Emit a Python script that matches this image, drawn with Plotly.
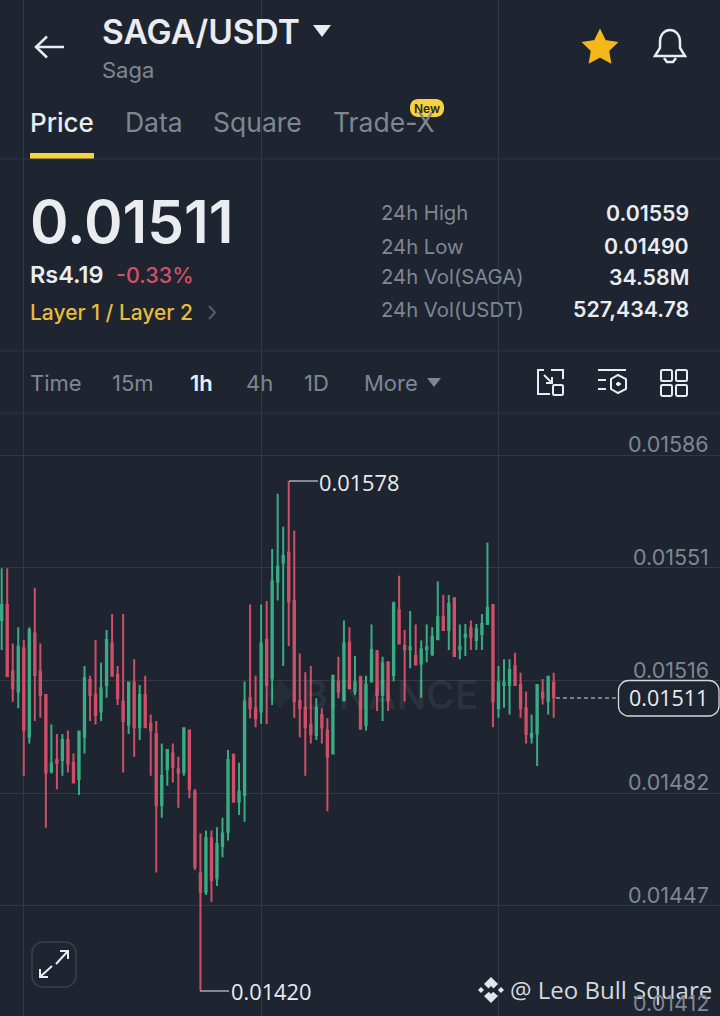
import math
import plotly.graph_objects as go

# hourly candles
opens = [
    0.015349, 0.015395, 0.015189, 0.015127, 0.015261, 0.014987, 0.015307, 0.015189, 0.015116, 0.014879,
    0.014915, 0.014915, 0.014977, 0.014906, 0.014856, 0.014987, 0.015163, 0.015116, 0.015065, 0.015147,
    0.015276, 0.015178, 0.015095, 0.015025, 0.015155, 0.015016, 0.015116, 0.015026, 0.014995, 0.014775,
    0.014886, 0.014935, 0.014886, 0.014876, 0.015006, 0.014816, 0.014563, 0.014506, 0.014672, 0.014548,
    0.014648, 0.014692, 0.014930, 0.014785, 0.014806, 0.015106, 0.015075, 0.015065, 0.015287, 0.015168,
    0.015468, 0.015527, 0.015558, 0.015408, 0.015098, 0.015077, 0.015023, 0.014992, 0.015054, 0.015006,
    0.014935, 0.015158, 0.015101, 0.015279, 0.015127, 0.015171, 0.015023, 0.015158, 0.015251, 0.015116,
    0.015218, 0.015178, 0.015380, 0.015268, 0.015258, 0.015237, 0.015214, 0.015258, 0.015243, 0.015289,
    0.015357, 0.015318, 0.015416, 0.015258, 0.015297, 0.015323, 0.015287, 0.015305, 0.015336, 0.015395,
    0.015075, 0.015147, 0.015147, 0.015206, 0.015147, 0.015075, 0.014985, 0.014997, 0.015124, 0.015098,
    0.015154,
]
closes = [
    0.015395, 0.015175, 0.015137, 0.015266, 0.015008, 0.015318, 0.015178, 0.015116, 0.014876, 0.014904,
    0.014906, 0.014977, 0.014904, 0.014845, 0.015003, 0.015168, 0.015116, 0.015054, 0.015137, 0.015287,
    0.015176, 0.015106, 0.015036, 0.015155, 0.015016, 0.015116, 0.015016, 0.015006, 0.014775, 0.014865,
    0.014946, 0.014894, 0.014876, 0.015013, 0.014825, 0.014584, 0.014506, 0.014672, 0.014543, 0.014654,
    0.014687, 0.014915, 0.014785, 0.014816, 0.015096, 0.015075, 0.015044, 0.015276, 0.015147, 0.015468,
    0.015514, 0.015547, 0.015406, 0.015098, 0.015075, 0.015016, 0.014995, 0.015075, 0.015016, 0.014925,
    0.015176, 0.015127, 0.015276, 0.015137, 0.015156, 0.015013, 0.015147, 0.015256, 0.015116, 0.015214,
    0.015101, 0.015400, 0.015276, 0.015258, 0.015264, 0.015211, 0.015258, 0.015264, 0.015297, 0.015357,
    0.015318, 0.015398, 0.015237, 0.015266, 0.015304, 0.015295, 0.015320, 0.015336, 0.015387, 0.015096,
    0.015154, 0.015154, 0.015194, 0.015147, 0.015075, 0.014995, 0.014995, 0.015147, 0.015108, 0.015173,
    0.015110,
]
highs = [
    0.015509, 0.015509, 0.015276, 0.015326, 0.015287, 0.015326, 0.015449, 0.015276, 0.015116, 0.015025,
    0.014995, 0.014995, 0.015006, 0.014935, 0.015006, 0.015206, 0.015176, 0.015287, 0.015216, 0.015318,
    0.015367, 0.015206, 0.015367, 0.015155, 0.015227, 0.015147, 0.015176, 0.015056, 0.015036, 0.014966,
    0.014946, 0.014966, 0.014925, 0.015016, 0.015006, 0.014825, 0.014687, 0.014696, 0.014696, 0.014706,
    0.014736, 0.014946, 0.014935, 0.014906, 0.015158, 0.015397, 0.015176, 0.015397, 0.015408, 0.015569,
    0.015740, 0.015638, 0.015780, 0.015626, 0.015245, 0.015187, 0.015206, 0.015106, 0.015075, 0.015044,
    0.015176, 0.015235, 0.015347, 0.015326, 0.015237, 0.015176, 0.015176, 0.015335, 0.015256, 0.015235,
    0.015218, 0.015406, 0.015486, 0.015318, 0.015377, 0.015335, 0.015285, 0.015335, 0.015326, 0.015468,
    0.015426, 0.015426, 0.015416, 0.015335, 0.015336, 0.015347, 0.015336, 0.015367, 0.015589, 0.015398,
    0.015206, 0.015227, 0.015227, 0.015247, 0.015185, 0.015127, 0.015056, 0.015147, 0.015166, 0.015176,
    0.015185,
]
lows = [
    0.015256, 0.015175, 0.015095, 0.015075, 0.014866, 0.014966, 0.015036, 0.015046, 0.014705, 0.014873,
    0.014824, 0.014866, 0.014876, 0.014845, 0.014806, 0.014935, 0.015036, 0.015025, 0.015036, 0.015108,
    0.015176, 0.015085, 0.014876, 0.014995, 0.014925, 0.014977, 0.015016, 0.014866, 0.014566, 0.014736,
    0.014835, 0.014845, 0.014767, 0.014866, 0.014796, 0.014574, 0.014200, 0.014496, 0.014475, 0.014524,
    0.014613, 0.014665, 0.014783, 0.014744, 0.014723, 0.015044, 0.015016, 0.015026, 0.015026, 0.015085,
    0.015409, 0.015206, 0.015268, 0.015046, 0.014985, 0.014866, 0.014966, 0.014977, 0.014966, 0.014756,
    0.014935, 0.015106, 0.015096, 0.015137, 0.015116, 0.015008, 0.015006, 0.015158, 0.015067, 0.015036,
    0.015067, 0.015158, 0.015276, 0.015096, 0.015199, 0.015209, 0.015108, 0.015218, 0.015237, 0.015287,
    0.015318, 0.015256, 0.015237, 0.015227, 0.015237, 0.015256, 0.015256, 0.015256, 0.015336, 0.015016,
    0.015046, 0.015077, 0.015056, 0.015147, 0.015046, 0.014966, 0.014966, 0.014896, 0.015087, 0.015056,
    0.015046,
]
candle_index = list(range(len(closes)))

price_ticks = [0.015859, 0.015510, 0.015161, 0.014812, 0.014463, 0.014114]
price_labels = ["0.01586", "0.01551", "0.01516", "0.01482", "0.01447", "0.01412"]
grid_candles = [4, 47, 90]

max_price = 0.01578
min_price = 0.01420
last_price = 0.01511

stat_names = ["24h High", "24h Low", "24h Vol(SAGA)", "24h Vol(USDT)"]
stat_values = ["0.01559", "0.01490", "34.58M", "527,434.78"]
stat_rows = [213, 246, 277, 309]

tabs = [("Price", 28.5), ("Data", 124), ("Square", 212), ("Trade-X", 332)]
periods = [("Time", 28.5), ("15m", 111), ("1h", 188.5), ("4h", 244.5), ("1D", 303), ("More", 363)]

W, H = 720, 1016
Y_RANGE = [0.014121, 0.017271]
BG = "#1e2530"
WHITE = "#eaecef"
GREY = "#7f8793"
LINE = "#2e343e"
YELLOW = "#f5d33f"
RED = "#cf4f66"
GREEN = "#38ad84"
FONT = "Inter"
FONT2 = "Open Sans"


def px(x):
    return x / W


def py(y):
    return 1 - y / H


def path(points, close=False):
    d = "M" + " L".join(f"{px(x):.5f},{py(y):.5f}" for x, y in points)
    return d + (" Z" if close else "")


def rrect(x0, y0, x1, y1, r):
    # rounded rectangle in screen pixels
    k = r * 0.45
    p = lambda x, y: f"{px(x):.5f},{py(y):.5f}"
    return (
        f"M{p(x0 + r, y0)} L{p(x1 - r, y0)} C{p(x1 - k, y0)} {p(x1, y0 + k)} {p(x1, y0 + r)} "
        f"L{p(x1, y1 - r)} C{p(x1, y1 - k)} {p(x1 - k, y1)} {p(x1 - r, y1)} "
        f"L{p(x0 + r, y1)} C{p(x0 + k, y1)} {p(x0, y1 - k)} {p(x0, y1 - r)} "
        f"L{p(x0, y0 + r)} C{p(x0, y0 + k)} {p(x0 + k, y0)} {p(x0 + r, y0)} Z"
    )


shapes = []


def add_path(d, color=None, fill=None, width=2, dash=None):
    shapes.append(dict(
        type="path", path=d, xref="paper", yref="paper",
        fillcolor=fill if fill else "rgba(0,0,0,0)",
        line=dict(color=color if color else "rgba(0,0,0,0)", width=width if color else 0, dash=dash),
    ))


annotations = []


def txt(x, y, s, size, color=WHITE, anchor="left", weight=400, font=FONT):
    annotations.append(dict(
        x=px(x), y=py(y), xref="paper", yref="paper", text=s, showarrow=False,
        xanchor=anchor, yanchor="middle", borderpad=0, align=anchor,
        font=dict(family=font, size=size, color=color, weight=weight),
    ))


# header
add_path(path([(36, 47), (64, 47)]), WHITE, width=2.5)
add_path(path([(47, 36.5), (36, 47), (47, 57.5)]), WHITE, width=2.5)
txt(100.5, 32, "SAGA/USDT", 33.5, WHITE, weight=600)
add_path(path([(313, 25), (331, 25), (322, 37)], True), fill=WHITE)
txt(101, 70, "Saga", 22, GREY)

star = []
for i in range(10):
    r = 16 if i % 2 == 0 else 8
    a = -math.pi / 2 + i * math.pi / 5
    star.append((600 + r * math.cos(a), 48 + r * math.sin(a)))
add_path(path(star, True), "#f5b81a", "#f5b81a", 3)

bell = [
    "M%s" % f"{px(655):.5f},{py(56):.5f}",
    "L%s" % f"{px(660):.5f},{py(48):.5f}",
    "L%s" % f"{px(660):.5f},{py(42):.5f}",
    "C{} {} {}".format(f"{px(660):.5f},{py(26):.5f}", f"{px(680):.5f},{py(26):.5f}", f"{px(680):.5f},{py(42):.5f}"),
    "L%s" % f"{px(680):.5f},{py(48):.5f}",
    "L%s" % f"{px(685):.5f},{py(56):.5f}",
    "Z",
]
add_path(" ".join(bell), WHITE, width=2.5)
add_path(path([(664, 58), (667, 62), (673, 62), (676, 58)]), WHITE, width=2.5)

# tabs
for i, (name, x) in enumerate(tabs):
    txt(x, 122, name, 26 if i == 0 else 26.5, WHITE if i == 0 else GREY, weight=500 if i == 0 else 400)
add_path(rrect(30, 153, 94, 159, 0.5), fill=YELLOW)
add_path(path([(0, 159), (720, 159)]), LINE, width=1)
add_path(rrect(410, 99, 444, 117, 8), fill=YELLOW)
txt(427, 108, "New", 12, "#2b2a20", "center", 600)

# price block
txt(28.5, 221, "0.01511", 58.5, WHITE, weight=600)
txt(28.5, 275, "Rs4.19", 23.5, WHITE, weight=600)
txt(114.5, 275, "-0.33%", 21.5, "#d4506a", weight=500)
txt(29, 312, "Layer 1 / Layer 2", 21, "#e8bb3b", weight=500)
add_path(path([(209, 306), (215, 312.5), (209, 319)]), "#555c68", width=2)
for name, value, y in zip(stat_names, stat_values, stat_rows):
    txt(379.5, y, name, 20.3, GREY)
    txt(690, y, value, 21.3, WHITE, "right", 600)

# period bar
add_path(path([(0, 351), (720, 351)]), LINE, width=1)
add_path(path([(0, 413), (720, 413)]), LINE, width=1)
for name, x in periods:
    txt(x, 383, name, 22, WHITE if name == "1h" else GREY, weight=600 if name == "1h" else 400)
add_path(path([(427, 378), (441, 378), (434, 387)], True), fill=GREY)

# icon 1
add_path(path([(551, 370), (563, 370), (563, 379)]), WHITE, width=2)
add_path(path([(550, 394), (538, 394), (538, 370), (544, 370)]), WHITE, width=2)
add_path(rrect(553, 385, 563, 395, 1.5), WHITE, width=2)
add_path(path([(544, 375), (552, 383)]), WHITE, width=2)
add_path(path([(552, 377), (552, 383), (546, 383)]), WHITE, width=2)
# icon 2
add_path(path([(598, 370), (626, 370)]), WHITE, width=2)
add_path(path([(598, 380), (606, 380)]), WHITE, width=2)
add_path(path([(598, 389), (606, 389)]), WHITE, width=2)
add_path(path([(618, 375), (626, 379), (626, 389), (618, 393), (611, 389), (611, 379)], True), WHITE, width=2)
add_path(path([(618, 382), (621, 384), (618, 386), (616, 384)], True), WHITE, fill=WHITE, width=1)
# icon 3
for x0, y0 in [(661, 370), (676, 370), (661, 385), (676, 385)]:
    add_path(rrect(x0, y0, x0 + 11, y0 + 11, 1.5), WHITE, width=2)

# high / low callouts, last price
add_path(path([(289, 481), (318, 481)]), WHITE, width=1)
txt(318, 482, f"{max_price:.5f}", 21.8, WHITE, font=FONT2)
add_path(path([(200, 991), (229, 991)]), WHITE, width=1)
txt(229.5, 991.5, f"{min_price:.5f}", 21.8, WHITE, font=FONT2)
add_path(path([(556, 698), (618, 698)]), "#d5d7db", width=1, dash="4px,3px")
add_path(rrect(618.5, 680.5, 719, 716, 10), "#d5d7db", BG, 1.3)
txt(668, 697.5, f"{last_price:.5f}", 21.5, WHITE, "center", font=FONT2)

# watermark
txt(479, 694, "BINANCE", 39, "rgba(255,255,255,0.06)", "right", 600)
add_path(path([(266, 694), (280, 680), (294, 694), (280, 708)], True), fill="rgba(255,255,255,0.04)")

# expand button
add_path(rrect(32, 942, 76, 987, 11), "#3a404b", width=1.6)
add_path(path([(56, 964), (68, 951)]), WHITE, width=2)
add_path(path([(60, 951), (68, 951), (68, 959)]), WHITE, width=2)
add_path(path([(40, 977), (52, 966)]), WHITE, width=2)
add_path(path([(40, 969), (40, 977), (48, 977)]), WHITE, width=2)

# credit bottom right
add_path(path([(491, 977), (498, 984), (491, 991), (484, 984)], True), fill="#e4e6ea")
add_path(path([(491, 990), (498, 996), (491, 1003), (484, 996)], True), fill="#e4e6ea")
add_path(path([(481, 987), (484, 990), (481, 993), (478, 990)], True), fill="#e4e6ea")
add_path(path([(501, 987), (504, 990), (501, 993), (498, 990)], True), fill="#e4e6ea")
add_path(path([(491, 986), (495, 990), (491, 994), (487, 990)], True), fill=BG)
txt(508.5, 989.5, "@ Leo Bull Square", 24, "#d6d8dc", font=FONT2)

# price axis labels sit on top of their grid line; the lowest tick falls just off the page
for value, label in zip(price_ticks, price_labels):
    annotations.append(dict(
        x=px(709.5), y=(value - Y_RANGE[0]) / (Y_RANGE[1] - Y_RANGE[0]),
        xref="paper", yref="paper", text=label, showarrow=False,
        xanchor="right", yanchor="bottom", yshift=1 if label == "0.01412" else -3, borderpad=0,
        font=dict(family=FONT, size=21.5, color=GREY),
    ))

fig = go.Figure(go.Candlestick(
    x=candle_index, open=opens, high=highs, low=lows, close=closes,
    increasing=dict(line=dict(color=GREEN, width=2), fillcolor=GREEN),
    decreasing=dict(line=dict(color=RED, width=2), fillcolor=RED),
    whiskerwidth=0, hoverinfo="skip",
))

fig.update_layout(
    width=W, height=H,
    margin=dict(l=0, r=0, t=0, b=0),
    paper_bgcolor=BG, plot_bgcolor=BG,
    showlegend=False, boxgap=0.65,
    shapes=shapes, annotations=annotations,
)
fig.update_xaxes(
    range=[-0.308, 130.13], rangeslider_visible=False,
    tickvals=grid_candles, showticklabels=False, ticks="",
    showgrid=True, gridcolor="#333943", gridwidth=1, zeroline=False, showline=False,
)
fig.update_yaxes(
    range=Y_RANGE,
    tickvals=price_ticks, showticklabels=False, ticks="",
    showgrid=True, gridcolor="#333943", gridwidth=1, zeroline=False, showline=False,
)

fig.write_html(
    "out.html", config=dict(displayModeBar=False),
    post_script="document.body.style.margin='0';document.body.style.background='%s';" % BG,
)
